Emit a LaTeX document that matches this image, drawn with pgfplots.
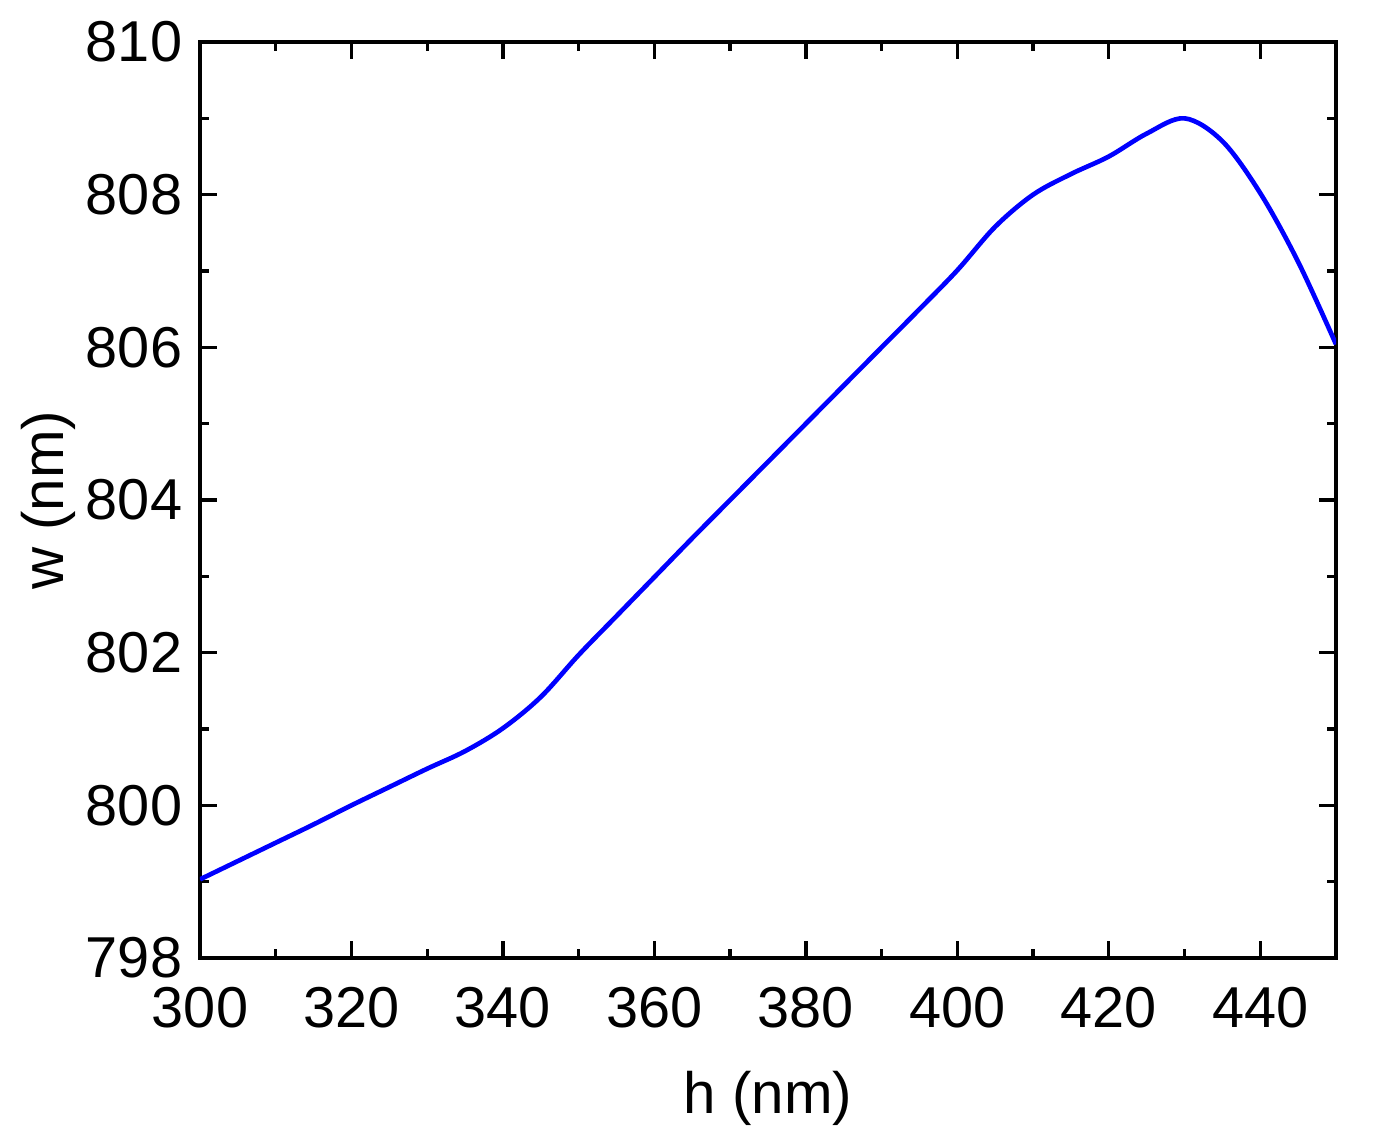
\documentclass[border=0pt]{standalone}
\usepackage{fontspec}
\setmainfont{Liberation Sans}
\usepackage{pgfplots}
\pgfplotsset{compat=1.18}
\begin{document}
\fontsize{17}{20}\selectfont
\begin{tikzpicture}
\begin{axis}[
  scale only axis, width=340.8pt, height=274.8pt,
  xmin=300, xmax=450, ymin=798, ymax=810,
  xtick={300,320,...,440}, ytick={798,800,...,810},
  minor x tick num=1, minor y tick num=1,
  tick align=inside, major tick length=5pt, minor tick length=2.7pt,
  axis line style={line width=1.1pt},
  every tick/.style={black, line width=1pt},
  /pgf/number format/assume math mode=true,
  /pgf/number format/1000 sep={},
  ticklabel style={font=\fontsize{17.3}{20}\selectfont},
  xticklabel style={yshift=-3pt},
  yticklabel style={xshift=0.5pt},
  label style={font=\fontsize{17.5}{20}\selectfont},
  xlabel={h (nm)}, ylabel={w (nm)},
  xlabel style={at={(axis description cs:0.5,0)}, anchor=center, yshift=-42pt},
  ylabel style={at={(axis description cs:-0.1338,0.5)}, anchor=center},
]
\addplot[color={rgb,255:red,0;green,0;blue,255}, line width=1.4pt, smooth, tension=0.55] coordinates {
(300,799.03) (305,799.27) (310,799.51) (315,799.75) (320,800.00) (325,800.24)
(330,800.48) (335,800.71) (340,801.01) (345,801.42) (350,801.97) (355,802.48)
(360,802.99) (365,803.50) (370,804.00) (375,804.50) (380,805.00) (385,805.50)
(390,806.00) (395,806.50) (400,807.01) (405,807.58) (410,808.00) (415,808.27)
(420,808.50) (425,808.80) (430,809.00) (435,808.70) (440,808.02) (445,807.12)
(450,806.04)
};
\end{axis}
\pgfresetboundingbox
\path (current axis.south west) ++(-60pt,-56.4pt) rectangle ++(412.5pt,343.8pt);
\end{tikzpicture}
\end{document}
